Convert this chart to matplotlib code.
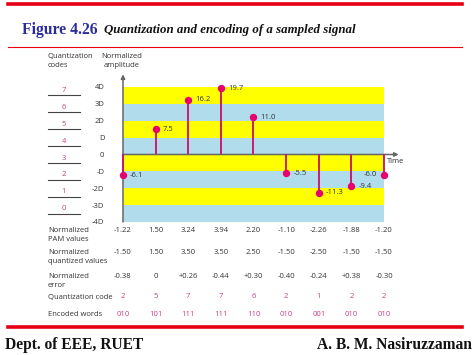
import matplotlib
matplotlib.use("Agg")
import matplotlib.pyplot as plt
import matplotlib.transforms as mtransforms
from matplotlib.lines import Line2D

# data
amp_ticks = [4, 3, 2, 1, 0, -1, -2, -3, -4]
amp_tick_labels = ["4D", "3D", "2D", "D", "0", "-D", "-2D", "-3D", "-4D"]
pam = [-1.22, 1.50, 3.24, 3.94, 2.20, -1.10, -2.26, -1.88, -1.20]
amplitude = [-6.1, 7.5, 16.2, 19.7, 11.0, -5.5, -11.3, -9.4, -6.0]
quantized = ["-1.50", "1.50", "3.50", "3.50", "2.50", "-1.50", "-2.50", "-1.50", "-1.50"]
error = ["-0.38", "0", "+0.26", "-0.44", "+0.30", "-0.40", "-0.24", "+0.38", "-0.30"]
qcode = ["2", "5", "7", "7", "6", "2", "1", "2", "2"]
words = ["010", "101", "111", "111", "110", "010", "001", "010", "010"]
levels = [7, 6, 5, 4, 3, 2, 1, 0]

W, H = 474, 355
RED = "#e60012"
PINK = "#c8408a"
STEM = "#c8106e"
DOT = "#e8006e"
TXT = "#333333"
SANS = "Open Sans"
SERIF = "Liberation Serif"

fig = plt.figure(figsize=(W / 100, H / 100), dpi=100)

def fx(px):
    return px / W

def fy(py):
    return 1 - py / H

# main plot axes: pixel x 110..400, y 70..225
ax = fig.add_axes([fx(110), fy(225), fx(290), 155 / H])
ax.set_xlim(-0.398, 8.49)
ax.set_ylim(-4.178, 5.007)
for s in ax.spines.values():
    s.set_visible(False)
ax.set_xticks([])
ax.set_yticks(amp_ticks)
ax.set_yticklabels(amp_tick_labels, fontsize=5.5, color=TXT, family=SANS)
ax.tick_params(axis="y", length=0, pad=4)
ax.patch.set_alpha(0)

n = len(pam)
for lo in range(-4, 4):
    c = "#ffff00" if (lo + 4) % 2 == 1 else "#b0dcec"
    ax.fill_between([0, n - 1], lo, lo + 1, color=c, lw=0, zorder=0)

ax.annotate("", xy=(8.45, 0), xytext=(0, 0),
            arrowprops=dict(arrowstyle="-|>", color="#666666", lw=1.1,
                            mutation_scale=6, shrinkA=0, shrinkB=0), zorder=2)
ax.annotate("", xy=(0, 4.75), xytext=(0, -4.0),
            arrowprops=dict(arrowstyle="-|>", color="#666666", lw=1.1,
                            mutation_scale=6, shrinkA=0, shrinkB=0), zorder=2)
ax.text(8.1, -0.2, "Time", fontsize=5.5, color=TXT, family=SANS, va="top", ha="left")

xs = list(range(n))
ax.vlines(xs, 0, pam, color=STEM, lw=1.3, zorder=3)
ax.plot(xs, pam, "o", color=DOT, ms=4.3, zorder=4)
for i, (x, v, a) in enumerate(zip(xs, pam, amplitude)):
    if i == n - 1:
        ax.text(x - 0.22, v, f"{a:.1f}", fontsize=5.5, color=TXT, family=SANS,
                ha="right", va="center")
    else:
        ax.text(x + 0.22, v, f"{a:.1f}", fontsize=5.5, color=TXT, family=SANS,
                ha="left", va="center")

# quantization code column
tr_fd = mtransforms.blended_transform_factory(fig.transFigure, ax.transData)
for k in levels:
    y = k - 3.5
    fig.add_artist(Line2D([fx(48), fx(80)], [y, y], transform=tr_fd, color="#444444", lw=0.8))
    fig.text(fx(64), y + 0.08, str(k), transform=tr_fd, fontsize=5.5, color=PINK,
             family=SANS, ha="center", va="bottom")

fig.text(fx(48), fy(61), "Quantization\ncodes", fontsize=5.5, color=TXT, family=SANS,
         ha="left", va="center", linespacing=1.25)
fig.text(fx(122), fy(61), "Normalized\namplitude", fontsize=5.5, color=TXT, family=SANS,
         ha="center", va="center", linespacing=1.25)

# table below the plot
tr_df = mtransforms.blended_transform_factory(ax.transData, fig.transFigure)
rows = [
    ("Normalized\nPAM values", [f"{v:.2f}" for v in pam], TXT, 231),
    ("Normalized\nquantized values", quantized, TXT, 253),
    ("Normalized\nerror", error, TXT, 277),
    ("Quantization code", qcode, PINK, 297),
    ("Encoded words", words, PINK, 314),
]
for label, vals, col, py in rows:
    if "\n" in label:
        fig.text(fx(48), fy(py - 4), label, fontsize=5.5, color=TXT, family=SANS,
                 ha="left", va="top", linespacing=1.35)
    else:
        fig.text(fx(48), fy(py), label, fontsize=5.5, color=TXT, family=SANS,
                 ha="left", va="center")
    for x, v in zip(xs, vals):
        fig.text(x, fy(py), v, transform=tr_df, fontsize=5.5, color=col, family=SANS,
                 ha="center", va="center")

# title and decorations
fig.add_artist(Line2D([fx(8), fx(462)], [fy(4), fy(4)], color=RED, lw=2.6))
fig.add_artist(Line2D([fx(8), fx(462)], [fy(47), fy(47)], color=RED, lw=0.8))
fig.add_artist(Line2D([fx(8), fx(462)], [fy(327), fy(327)], color=RED, lw=2.6))
fig.text(fx(22), fy(30), "Figure 4.26", fontsize=11.3, color="#2b2b9c", family=SERIF,
         weight="bold", ha="left", va="center")
fig.text(fx(104), fy(30), "Quantization and encoding of a sampled signal", fontsize=9.3,
         color="#111111", family=SERIF, weight="bold", style="italic", ha="left", va="center")
fig.text(fx(5), fy(345), "Dept. of EEE, RUET", fontsize=11.2, color="#111111", family=SERIF,
         weight="bold", ha="left", va="center")
fig.text(fx(472), fy(345), "A. B. M. Nasiruzzaman", fontsize=11.2, color="#111111", family=SERIF,
         weight="bold", ha="right", va="center")

fig.savefig("out.png", dpi=100)
